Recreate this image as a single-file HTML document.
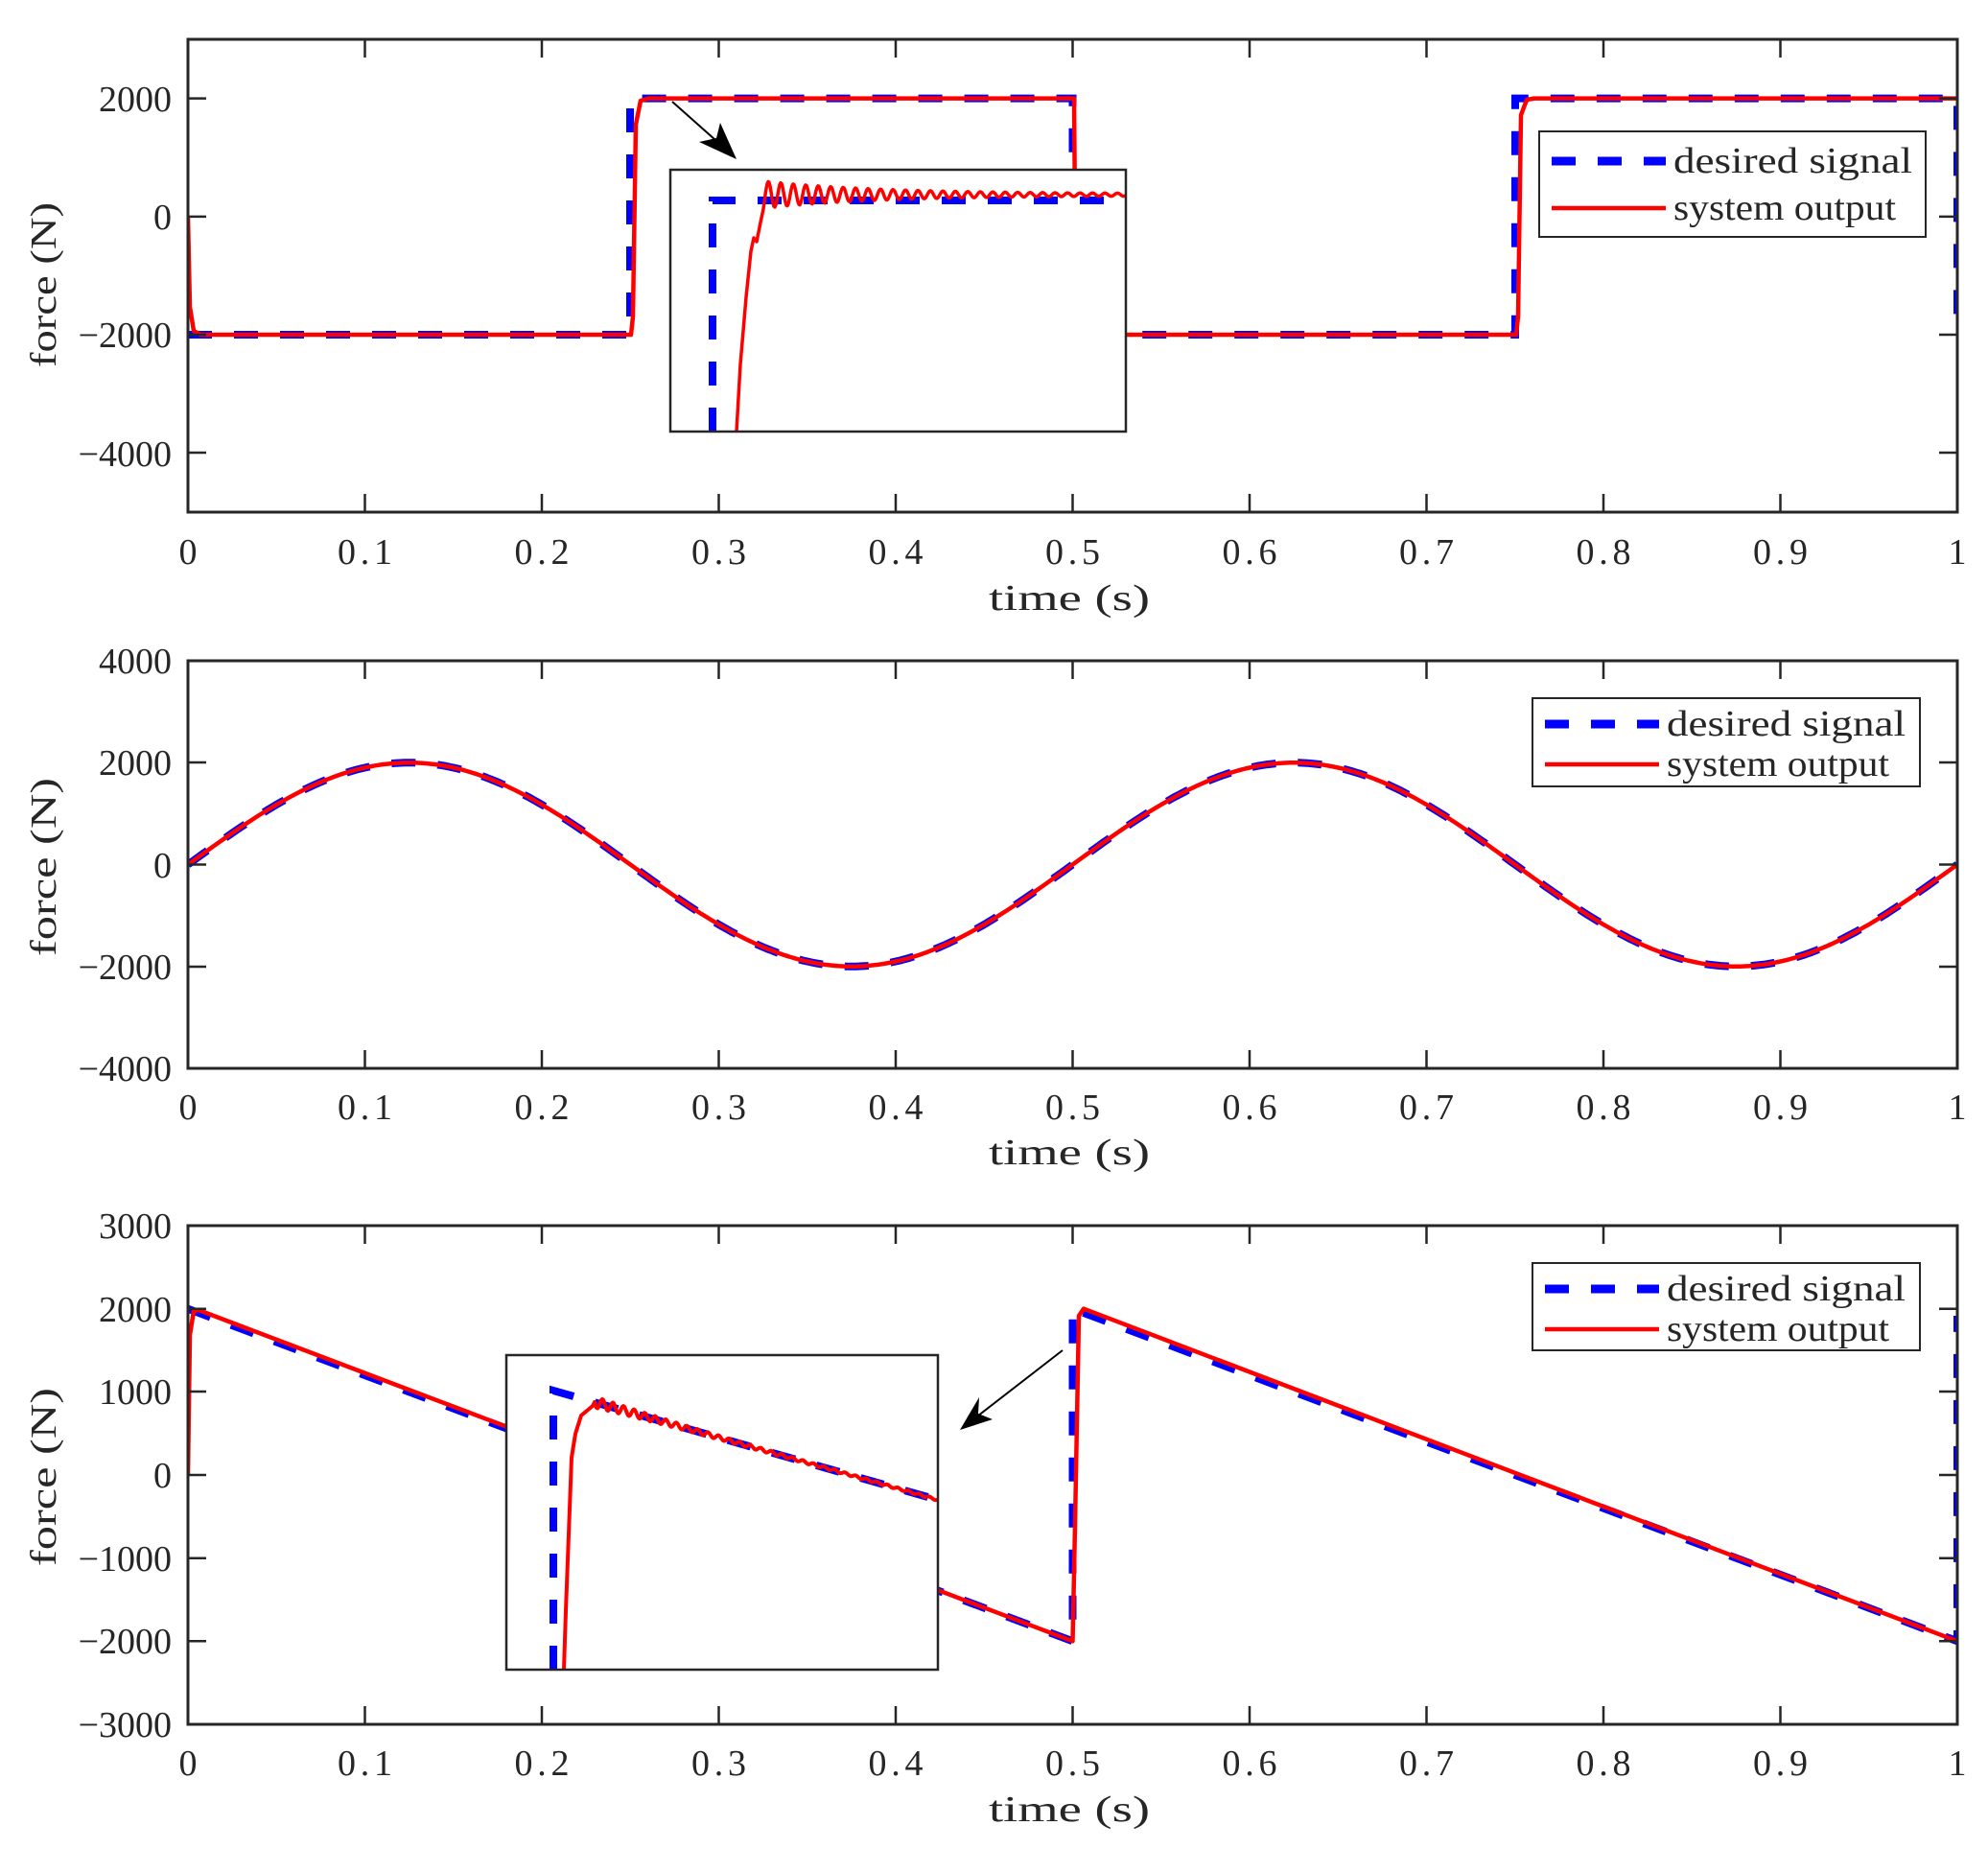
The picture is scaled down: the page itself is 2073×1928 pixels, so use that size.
<!DOCTYPE html>
<html><head><meta charset="utf-8"><style>
html,body{margin:0;padding:0;background:#fff}
svg{display:block}
text{font-family:"Liberation Serif","Noto Serif CJK SC",serif;fill:#262626}
.tk{font-size:38px}
.lg{font-size:38px}
</style></head><body>
<svg id="s" width="2073" height="1928" viewBox="0 0 2073 1928" xmlns="http://www.w3.org/2000/svg">
<defs>
<clipPath id="c1"><rect x="196" y="41" width="1845" height="493"/></clipPath>
<clipPath id="c2"><rect x="196" y="689" width="1845" height="425"/></clipPath>
<clipPath id="c3"><rect x="196" y="1278" width="1845" height="520"/></clipPath>
<clipPath id="i1"><rect x="699" y="177" width="475" height="273"/></clipPath>
<clipPath id="i3"><rect x="528" y="1413" width="450" height="328"/></clipPath>
</defs>
<g id="g"></g>
<g class="tk" text-anchor="end">
<text x="179" y="116">2000</text><text x="179" y="239">0</text><text x="179" y="362">−2000</text><text x="179" y="486">−4000</text>
<text x="179" y="702">4000</text><text x="179" y="808">2000</text><text x="179" y="915">0</text><text x="179" y="1021">−2000</text><text x="179" y="1127">−4000</text>
<text x="179" y="1291">3000</text><text x="179" y="1378">2000</text><text x="179" y="1464">1000</text><text x="179" y="1551">0</text><text x="179" y="1638">−1000</text><text x="179" y="1724">−2000</text><text x="179" y="1811">−3000</text>
</g>
<g class="tk" text-anchor="middle" id="xl"></g>
<g text-anchor="middle" style="font-size:38px">
<text x="1115" y="636" textLength="168" lengthAdjust="spacingAndGlyphs">time (s)</text>
<text x="1115" y="1214" textLength="168" lengthAdjust="spacingAndGlyphs">time (s)</text>
<text x="1115" y="1899" textLength="168" lengthAdjust="spacingAndGlyphs">time (s)</text>
<text transform="translate(58,297) rotate(-90)" textLength="172" lengthAdjust="spacingAndGlyphs">force (N)</text>
<text transform="translate(58,904) rotate(-90)" textLength="186" lengthAdjust="spacingAndGlyphs">force (N)</text>
<text transform="translate(58,1540) rotate(-90)" textLength="186" lengthAdjust="spacingAndGlyphs">force (N)</text>
</g>
</svg>
<script>
var g=document.getElementById('g'),NS="http://www.w3.org/2000/svg";
function el(t,a,p){var e=document.createElementNS(NS,t);for(var k in a)e.setAttribute(k,a[k]);(p||g).appendChild(e);return e;}
function X(t){return 196+1845*t;}
var BL={fill:"none",stroke:"#0000ff","stroke-width":8,"stroke-dasharray":"25 23"};
var RD={fill:"none",stroke:"#ff0000","stroke-width":4.5,"stroke-linejoin":"round"};
function P(pts){return "M"+pts.map(function(p){return p[0].toFixed(1)+","+p[1].toFixed(1)}).join(" L");}
var axes=[[41,534,[102.6,225.9,349,472]],[689,1114,[689,795,901.5,1008,1114]],[1278,1798,[1278,1364.7,1451,1538,1624.7,1711.3,1798]]];
function frame(i){var a=axes[i],t=a[0],b=a[1];var d="";
 for(var k=1;k<10;k++){var x=X(k/10);d+="M"+x+","+b+"v-19M"+x+","+t+"v19";}
 a[2].forEach(function(y){d+="M196,"+y+"h19M2041,"+y+"h-19";});
 el('path',{d:d,stroke:"#262626","stroke-width":2.5,fill:"none"});
 el('rect',{x:196,y:t,width:1845,height:b-t,fill:"none",stroke:"#262626","stroke-width":3});
}
var xl=document.getElementById('xl');
["0","0.1","0.2","0.3","0.4","0.5","0.6","0.7","0.8","0.9","1"].forEach(function(s,k){
 [588,1167,1851].forEach(function(y){var a={x:X(k/10),y:y};if(s.length>1){a.textLength=57;a.lengthAdjust="spacing";}var e=el('text',a,xl);e.textContent=s;});});
// plot1
var g1=el('g',{"clip-path":"url(#c1)"});
el('path',Object.assign({d:"M196,349 H657 V102.6 H1118.5 V349 H1580 V102.6 H2041 V349"},BL),g1);
el('path',Object.assign({d:"M196,226 L198,320 L202,345 L209,349 H658 L660,330 L663,130 L668,105 L676,102.6 H1120 L1122,349 H1581 L1583,330 L1586,120 L1592,104 L1600,102.6 H2041"},RD),g1);
// plot2
var pb=[];for(var k=0;k<=400;k++){var t=k/400;pb.push([X(t),901.5-106.25*Math.sin(4*Math.PI*t)]);}
el('path',Object.assign({d:P(pb),"clip-path":"url(#c2)"},BL));
el('path',Object.assign({d:P(pb),"clip-path":"url(#c2)"},RD));
// plot3
var g3=el('g',{"clip-path":"url(#c3)"});
el('path',Object.assign({d:"M196,1364.7 L1118.5,1711.3 V1364.7 L2041,1711.3 V1372"},BL),g3);
el('path',Object.assign({d:"M196,1538 L198,1392 L202,1367 L207,1366 L1118.5,1711.3 L1121,1590 L1125,1372 L1130,1364.7 L2041,1711.3"},RD),g3);
// inset1
el('rect',{x:699,y:177,width:475,height:273,fill:"#fff",stroke:"none"});
var gi=el('g',{"clip-path":"url(#i1)"});
el('path',Object.assign({d:"M743,450 V209 H1174"},BL),gi);
var r=[[768,450],[772,380],[778,310],[783,262],[786,248],[789,252],[793,232],[796,218]];
for(var x=798;x<=1174;x+=1){var a=13*Math.exp(-(x-798)/120)+1;r.push([x,203-a*Math.sin((x-798)/13*2*Math.PI)]);}
el('path',Object.assign({d:P(r)},RD,{"stroke-width":3.5}),gi);
el('rect',{x:699,y:177,width:475,height:273,fill:"none",stroke:"#262626","stroke-width":2.5});
el('line',{x1:701,y1:106,x2:755,y2:154,stroke:"#000","stroke-width":2});
el('path',{d:"M768,166 L729,148 L747,144 L751,128 Z",fill:"#000"});
// inset3
el('rect',{x:528,y:1413,width:450,height:328,fill:"#fff",stroke:"none"});
var gj=el('g',{"clip-path":"url(#i3)"});
el('path',Object.assign({d:"M577,1741 V1450 L978,1564"},BL),gj);
var q=[[588,1741],[590,1680],[593,1600],[596,1520],[600,1495],[606,1476],[612,1471],[618,1466]];
for(var x=620;x<=978;x+=1){var a=5*Math.exp(-(x-620)/100)+0.8;q.push([x,1462+(x-620)*(102/358)+a*Math.sin((x-620)/11*2*Math.PI)]);}
el('path',Object.assign({d:P(q)},RD,{"stroke-width":4}),gj);
el('rect',{x:528,y:1413,width:450,height:328,fill:"none",stroke:"#262626","stroke-width":2.5});
el('line',{x1:1108,y1:1408,x2:1015,y2:1480,stroke:"#000","stroke-width":2});
el('path',{d:"M1001,1491 L1021,1457 L1020,1474 L1035,1480 Z",fill:"#000"});
for(var i=0;i<3;i++)frame(i);
// legends
function leg(x,y,w,h,y1,y2){
 el('rect',{x:x,y:y,width:w,height:h,fill:"#fff",stroke:"#262626","stroke-width":2});
 el('line',{x1:x+13,y1:y1,x2:x+132,y2:y1,stroke:"#0000ff","stroke-width":9,"stroke-dasharray":"25 23"});
 el('line',{x1:x+13,y1:y2,x2:x+132,y2:y2,stroke:"#ff0000","stroke-width":4.5});
 var t=el('text',{x:x+140,y:y1+12,"class":"lg",textLength:249,lengthAdjust:"spacingAndGlyphs"});t.textContent="desired signal";
 t=el('text',{x:x+140,y:y2+12,"class":"lg",textLength:232,lengthAdjust:"spacingAndGlyphs"});t.textContent="system output";
}
leg(1605,137,403,110,168,217);
leg(1598,728,404,92,755,797);
leg(1598,1317,404,91,1344,1386);
</script>
</body></html>
